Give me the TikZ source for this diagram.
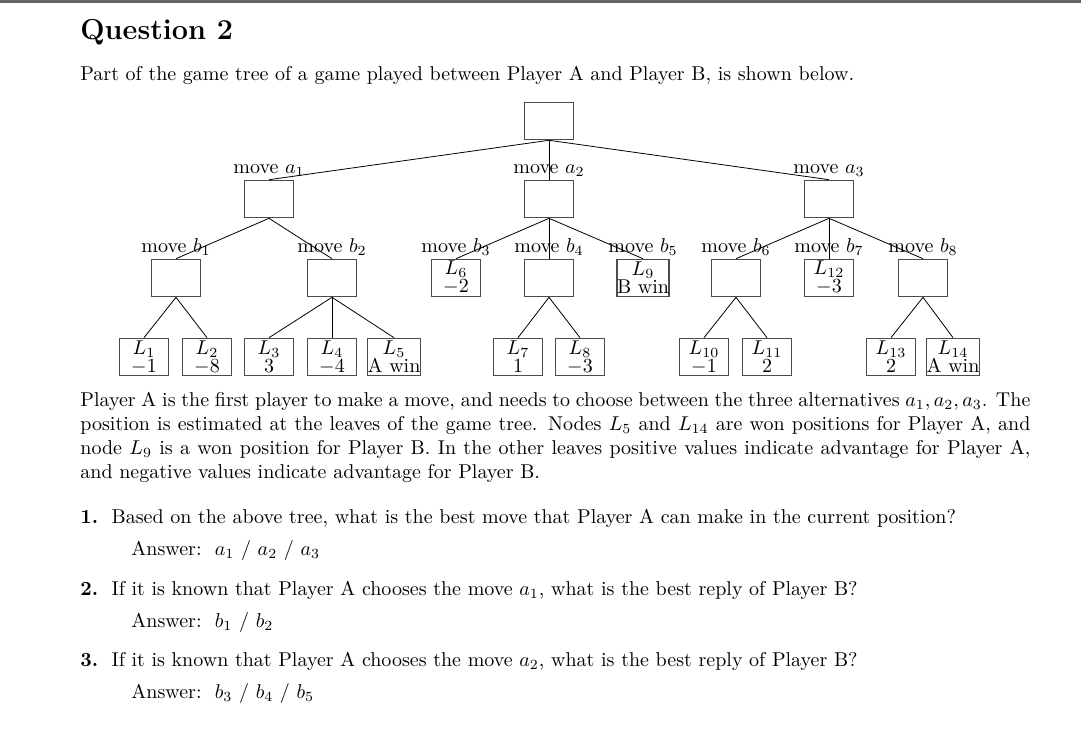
\documentclass[tikz,border=0pt]{standalone}
\usetikzlibrary{positioning}
\tikzset{
  gpos/.style={draw, thick, draw=black!70, minimum width=24.5pt, minimum height=18.5pt, inner sep=0pt},
  leaf/.style={gpos, align=center, font={\fontsize{10}{9}\selectfont}},
  mv/.style={label={[inner sep=1.5pt]above:move $#1$}},
  txt/.style={anchor=base west, inner sep=0pt},
  edge/.style={thin}
}
\begin{document}
\begin{tikzpicture}[x=0.5pt,y=-0.5pt]
\useasboundingbox (0,0) rectangle (1081,748);
\draw[black!60, line width=2pt] (0,1) -- (1081,1);

\node[txt, font=\Large\bfseries] (title) at (80,40) {Question 2};
\node[txt] (intro) at (80,81) {Part of the game tree of a game played between Player A and Player B, is shown below.};

% tree
\node[gpos] (root) at (549,121) {};
\node[gpos, mv=a_1] (a1) at (269,199) {};
\node[gpos, mv=a_2] (a2) at (549,199) {};
\node[gpos, mv=a_3] (a3) at (829,199) {};

\node[gpos, mv=b_1] (b1) at (176,278) {};
\node[gpos, mv=b_2] (b2) at (332,278) {};
\node[leaf, mv=b_3] (L6) at (456,278) {$L_6$\\$-2$};
\node[gpos, mv=b_4] (b4) at (549,278) {};
\node[leaf, mv=b_5] (L9) at (643,278) {$L_9$\\B win};
\node[gpos, mv=b_6] (b6) at (736,278) {};
\node[leaf, mv=b_7] (L12) at (829,278) {$L_{12}$\\$-3$};
\node[gpos, mv=b_8] (b8) at (923,278) {};

\node[leaf] (L1) at (144,357) {$L_1$\\$-1$};
\node[leaf] (L2) at (207,357) {$L_2$\\$-8$};
\node[leaf] (L3) at (269,357) {$L_3$\\3};
\node[leaf] (L4) at (332,357) {$L_4$\\$-4$};
\node[leaf] (L5) at (394,357) {$L_5$\\A win};
\node[leaf] (L7) at (518,357) {$L_7$\\1};
\node[leaf] (L8) at (580,357) {$L_8$\\$-3$};
\node[leaf] (L10) at (704,357) {$L_{10}$\\$-1$};
\node[leaf] (L11) at (767,357) {$L_{11}$\\2};
\node[leaf] (L13) at (891,357) {$L_{13}$\\2};
\node[leaf] (L14) at (953,357) {$L_{14}$\\A win};

\foreach \p/\c in {root/a1,root/a2,root/a3,a1/b1,a1/b2,a2/L6,a2/b4,a2/L9,a3/b6,a3/L12,a3/b8,
  b1/L1,b1/L2,b2/L3,b2/L4,b2/L5,b4/L7,b4/L8,b6/L10,b6/L11,b8/L13,b8/L14}
  \draw[edge] (\p.south) -- (\c.north);

% text below
\node[anchor=north west, inner sep=0pt, text width=475pt, align=justify] (body) at (80,392)
 {Player A is the first player to make a move, and needs to choose between the three alternatives $a_1, a_2, a_3$.
 The position is estimated at the leaves of the game tree. Nodes $L_5$ and $L_{14}$ are won positions for Player A,
 and node $L_9$ is a won position for Player B. In the other leaves positive values indicate advantage for Player
 A, and negative values indicate advantage for Player B.};

\node[txt] (q1) at (80,523) {\textbf{1.}\ \ Based on the above tree, what is the best move that Player A can make in the current position?};
\node[txt] (ans1) at (131,555) {Answer:\ \ $a_1$ / $a_2$ / $a_3$};
\node[txt] (q2) at (80,595) {\textbf{2.}\ \ If it is known that Player A chooses the move $a_1$, what is the best reply of Player B?};
\node[txt] (ans2) at (131,627) {Answer:\ \ $b_1$ / $b_2$};
\node[txt] (q3) at (80,666) {\textbf{3.}\ \ If it is known that Player A chooses the move $a_2$, what is the best reply of Player B?};
\node[txt] (ans3) at (131,698) {Answer:\ \ $b_3$ / $b_4$ / $b_5$};
\end{tikzpicture}
\end{document}
